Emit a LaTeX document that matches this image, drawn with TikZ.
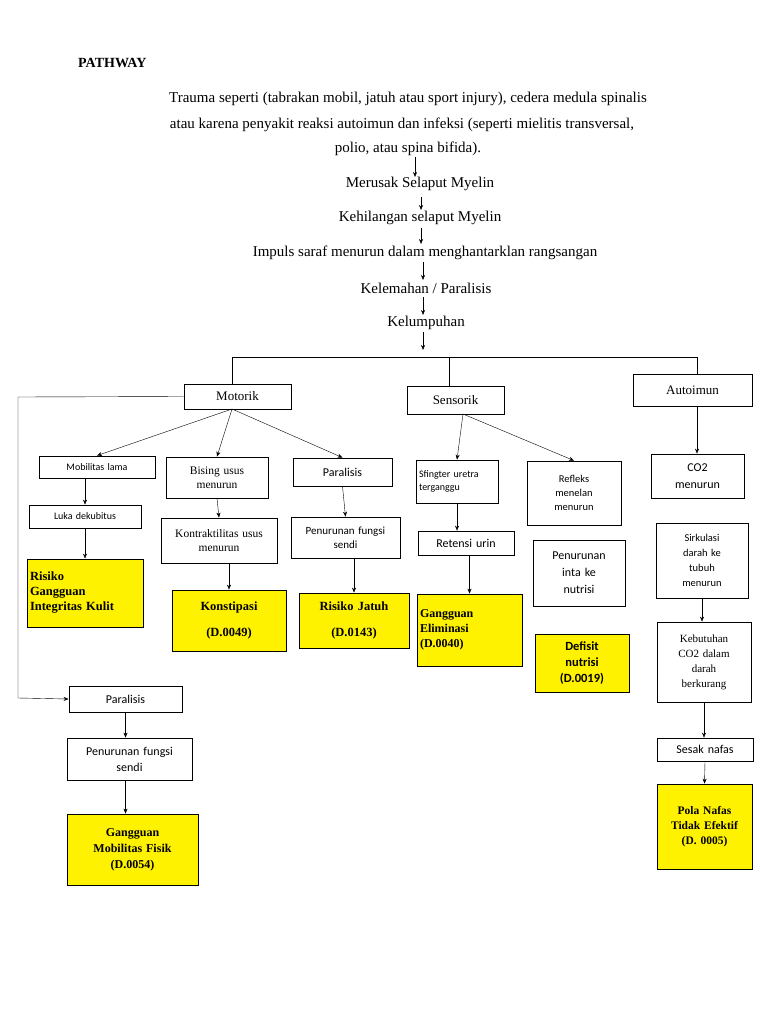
\documentclass[tikz,border=0pt]{standalone}
\usepackage{fontspec}
\setmainfont{Liberation Serif}
\newfontfamily\cb{Carlito}
\usetikzlibrary{arrows.meta}
\tikzset{
  bx/.style={draw,thick,align=center,inner sep=1pt,font=\cb\fontsize{9}{11}\selectfont},
  yb/.style={bx,fill=yellow,font=\bfseries\fontsize{10}{14}\selectfont},
  ar/.style={-{Stealth[length=5pt,width=4pt]},thin},
  ln/.style={thin},
  tx/.style={font=\fontsize{15}{18}\selectfont,inner sep=0pt}
}
% box from (x1,y1) to (x2,y2) in pixel coordinates
\newcommand\mybox[7]{\node[#1,minimum width=#4-#2,minimum height=#5-#3,text width=#4-#2-6] (#6) at ({(#2+#4)/2},{(#3+#5)/2}) {#7};}
\begin{document}
\begin{tikzpicture}[x=1pt,y=-1pt]
\useasboundingbox (0,0) rectangle (768,1024);
\node[tx,font=\bfseries\fontsize{14}{16}\selectfont,anchor=west] (pw) at (78,63) {PATHWAY};
\node[tx] (t1) at (408,99) {Trauma seperti (tabrakan mobil, jatuh atau sport injury), cedera medula spinalis};
\node[tx] (t2) at (402,125) {atau karena penyakit reaksi autoimun dan infeksi (seperti mielitis transversal,};
\node[tx] (t3) at (408,149) {polio, atau spina bifida).};
\node[tx] (m1) at (420,184) {Merusak Selaput Myelin};
\node[tx] (m2) at (420,218) {Kehilangan selaput Myelin};
\node[tx] (m3) at (425,253) {Impuls saraf menurun dalam menghantarklan rangsangan};
\node[tx] (m4) at (426,288) {Kelemahan / Paralisis};
\node[tx] (m5) at (426,323) {Kelumpuhan};
\coordinate (a0) at (415,157); \coordinate (a0e) at (415,177);
\draw[ar] (a0) -- (a0e);
\coordinate (a1) at (421,197); \coordinate (a1e) at (421,210); \draw[ar] (a1) -- (a1e);
\coordinate (a2) at (421,228); \coordinate (a2e) at (421,244); \draw[ar] (a2) -- (a2e);
\coordinate (a3) at (423,262); \coordinate (a3e) at (423,280); \draw[ar] (a3) -- (a3e);
\coordinate (a4) at (423,297); \coordinate (a4e) at (423,315); \draw[ar] (a4) -- (a4e);
\coordinate (a5) at (423,332); \coordinate (a5e) at (423,350); \draw[ar] (a5) -- (a5e);

\mybox{bx,font=\fontsize{13}{15}\selectfont}{184}{384}{291}{409}{mot}{Motorik}
\mybox{bx,font=\fontsize{13}{15}\selectfont}{407}{386}{504}{414}{sen}{Sensorik}
\mybox{bx,font=\fontsize{13}{15}\selectfont}{633}{374}{752}{406}{aut}{Autoimun}
\coordinate (hl) at (232,357); \coordinate (hm) at (449,357); \coordinate (hr) at (697,357);
\draw[ln] (hl) -- (hr);
\draw[ln] (hl) -- (mot.north -| hl);
\draw[ln] (hm) -- (sen.north -| hm);
\draw[ln] (hr) -- (aut.north -| hr);

% motorik branch
\mybox{bx,font=\cb\fontsize{10}{12}\selectfont}{39}{456}{155}{478}{mob}{Mobilitas lama}
\mybox{bx,font=\cb\fontsize{10}{12}\selectfont}{29}{505}{141}{528}{luk}{Luka dekubitus}
\mybox{yb,align=left,font=\bfseries\fontsize{12.5}{15}\selectfont}{27}{559}{143}{627}{ris}{Risiko\\ Gangguan\\ Integritas Kulit}
\mybox{bx,font=\fontsize{11.5}{14}\selectfont}{166}{457}{268}{498}{bis}{Bising usus\\ menurun}
\mybox{bx,font=\fontsize{11.5}{14}\selectfont}{161}{518}{277}{563}{kon}{Kontraktilitas usus\\ menurun}
\mybox{yb,font=\bfseries\fontsize{12.5}{26}\selectfont}{172}{590}{286}{651}{kst}{Konstipasi\\ (D.0049)}
\mybox{bx,font=\cb\fontsize{12}{14}\selectfont}{293}{458}{392}{486}{par}{Paralisis}
\mybox{bx,font=\cb\fontsize{11}{14}\selectfont}{291}{517}{400}{558}{pfs}{Penurunan fungsi\\ sendi}
\mybox{yb,font=\bfseries\fontsize{12.5}{26}\selectfont}{299}{593}{409}{648}{rj}{Risiko Jatuh\\ (D.0143)}
\coordinate (mb) at (232,409);
\draw[ar] (mb) -- (mob.north);
\draw[ar] (mb) -- (bis.north);
\draw[ar] (mb) -- (par.north);
\draw[ar] (ris.north |- mob.south) -- (ris.north |- luk.north);
\draw[ar] (ris.north |- luk.south) -- (ris.north);
\draw[ar] (bis.south) -- (kon.north);
\draw[ar] (kst.north |- kon.south) -- (kst.north);
\draw[ar] (par.south) -- (pfs.north);
\draw[ar] (rj.north |- pfs.south) -- (rj.north);

% sensorik branch
\mybox{bx,align=left,font=\cb\fontsize{10}{13}\selectfont}{416}{460}{498}{503}{sfi}{Sfingter uretra\\ terganggu}
\mybox{bx,font=\cb\fontsize{12}{14}\selectfont}{418}{531}{514}{555}{ret}{Retensi urin}
\mybox{yb,align=left,font=\bfseries\fontsize{12}{15}\selectfont}{417}{594}{522}{666}{gel}{Gangguan\\ Eliminasi\\ (D.0040)}
\mybox{bx,font=\cb\fontsize{10.5}{14}\selectfont}{527}{461}{621}{525}{ref}{Refleks\\ menelan\\ menurun}
\mybox{bx,font=\cb\fontsize{12}{17}\selectfont}{533}{540}{625}{606}{pin}{Penurunan\\ inta ke\\ nutrisi}
\mybox{yb,font=\cb\bfseries\fontsize{12.5}{16}\selectfont}{535}{634}{629}{692}{def}{Defisit\\ nutrisi\\ (D.0019)}
\coordinate (sb) at (463,414);
\draw[ar] (sb) -- (sfi.north);
\draw[ar] (sb) -- (ref.north);
\draw[ar] (sfi.south) -- (sfi.south |- ret.north);
\draw[ar] (gel.north |- ret.south) -- (gel.north);

% autoimun branch
\mybox{bx,font=\cb\fontsize{12}{17}\selectfont}{651}{454}{744}{498}{co}{CO2\\ menurun}
\mybox{bx,font=\cb\fontsize{10.5}{15}\selectfont}{656}{523}{748}{598}{sir}{Sirkulasi\\ darah ke\\ tubuh\\ menurun}
\mybox{bx,font=\fontsize{11}{15}\selectfont}{657}{622}{751}{702}{keb}{Kebutuhan\\ CO2 dalam\\ darah\\ berkurang}
\mybox{bx,font=\cb\fontsize{12}{14}\selectfont}{657}{738}{753}{761}{ses}{Sesak nafas}
\mybox{yb,font=\bfseries\fontsize{11.5}{15}\selectfont}{657}{784}{752}{869}{pol}{Pola Nafas\\ Tidak Efektif\\ (D. 0005)}
\draw[ar] (aut.south -| hr) -- (co.north -| hr);
\draw[ar] (sir.south) -- (sir.south |- keb.north);
\draw[ar] (keb.south) -- (keb.south |- ses.north);
\draw[ar] (ses.south) -- (pol.north);

% lower left branch
\mybox{bx,font=\cb\fontsize{12}{14}\selectfont}{69}{686}{182}{712}{par2}{Paralisis}
\mybox{bx,font=\cb\fontsize{12}{16}\selectfont}{67}{738}{192}{780}{pfs2}{Penurunan fungsi\\ sendi}
\mybox{yb,font=\bfseries\fontsize{12}{16}\selectfont}{67}{814}{198}{885}{gmf}{Gangguan\\ Mobilitas Fisik\\ (D.0054)}
\coordinate (c1) at (18,397); \coordinate (c2) at (18,698);
\draw[ar] (mot.west) -- (c1) -- (c2) -- (par2.west);
\draw[ar] (par2.south) -- (par2.south |- pfs2.north);
\draw[ar] (par2.south |- pfs2.south) -- (par2.south |- gmf.north);
\end{tikzpicture}
\end{document}
